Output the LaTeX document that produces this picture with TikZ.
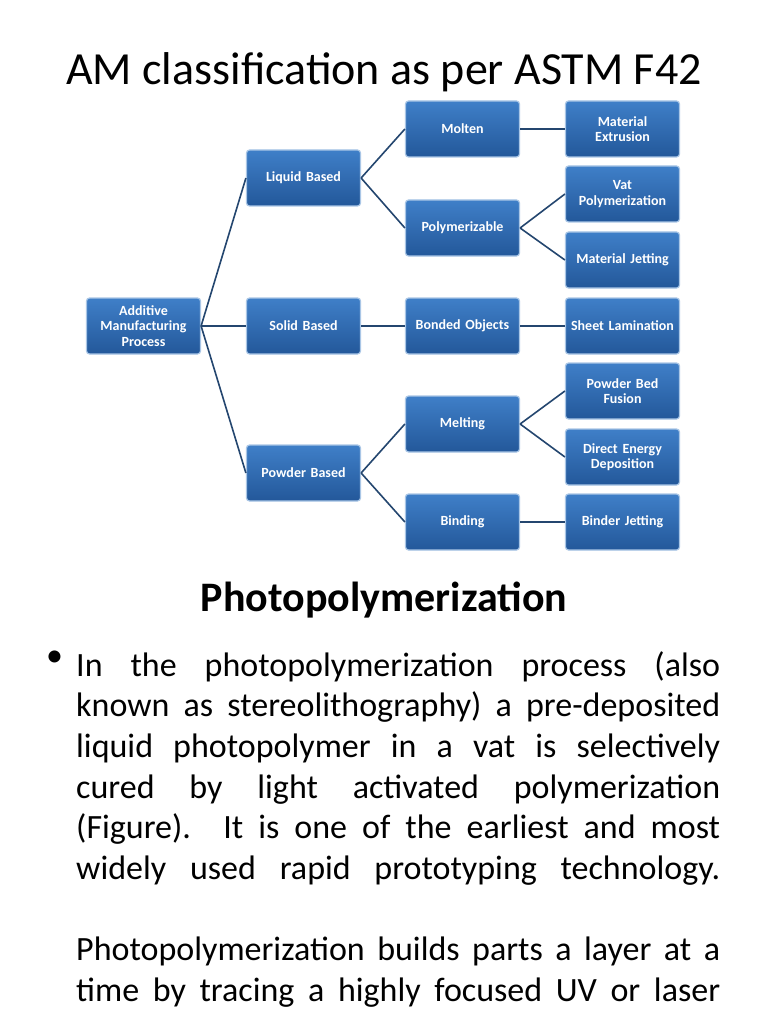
\documentclass[tikz,border=0pt]{standalone}
\usepackage{fontspec}
\setmainfont{Carlito}
\definecolor{bxtop}{HTML}{3F7FC8}
\definecolor{bxbot}{HTML}{23589A}
\definecolor{bxedge}{HTML}{A9C6E6}
\definecolor{lnc}{HTML}{24466F}
\tikzset{
 bx/.style={rectangle, rounded corners=3pt, minimum width=113pt, minimum height=56pt, inner sep=2pt,
   top color=bxtop, bottom color=bxbot, draw=bxedge, line width=1.2pt, text=white,
   font=\fontsize{14}{15.5}\selectfont\bfseries, align=center, text width=110pt},
 ln/.style={draw=lnc, line width=1.6pt}
}
\begin{document}
\begin{tikzpicture}[x=1pt,y=-1pt]
\useasboundingbox[fill=white] (0,0) rectangle (768,1024);
\node[font=\fontsize{46}{48}\selectfont] (title) at (384,72) {AM classification as per ASTM F42};
\node[bx] (am) at (143.5,326) {Additive\\Manufacturing\\Process};
\node[bx] (liq) at (303.5,178) {Liquid Based};
\node[bx] (sol) at (303.5,326) {Solid Based};
\node[bx] (pow) at (303.5,473) {Powder Based};
\node[bx] (mol) at (462.5,129) {Molten};
\node[bx] (pol) at (462.5,228) {Polymerizable};
\node[bx] (bon) at (462.5,326) {Bonded Objects};
\node[bx] (mel) at (462.5,424) {Melting};
\node[bx] (bin) at (462.5,522) {Binding};
\node[bx] (me) at (622.5,129) {Material\\Extrusion};
\node[bx] (vp) at (622.5,194) {Vat\\Polymerization};
\node[bx] (mj) at (622.5,260) {Material Jetting};
\node[bx] (sl) at (622.5,326) {Sheet Lamination};
\node[bx] (pbf) at (622.5,391) {Powder Bed\\Fusion};
\node[bx] (ded) at (622.5,457) {Direct Energy\\Deposition};
\node[bx] (bj) at (622.5,522) {Binder Jetting};
\foreach \a/\b in {am/liq,am/sol,am/pow,liq/mol,liq/pol,sol/bon,pow/mel,pow/bin,mol/me,pol/vp,pol/mj,bon/sl,mel/pbf,mel/ded,bin/bj}
  \draw[ln] (\a.east) -- (\b.west);
\node[font=\fontsize{42}{44}\selectfont\bfseries] (ph) at (384,600) {Photopolymerization};
\node[anchor=north west, inner sep=0pt, font=\fontsize{34}{40.7}\selectfont] (bul) at (46,651) {•};
\node[anchor=north west, inner sep=0pt, text width=644pt, align=justify,
  font=\fontsize{34}{40.7}\selectfont] (body) at (76,651) {\parfillskip=0pt
In the photopolymerization process (also\linebreak
known as stereolithography) a pre-deposited\linebreak
liquid photopolymer in a vat is selectively\linebreak
cured by light activated polymerization\linebreak
(Figure). It is one of the earliest and most\linebreak
widely used rapid prototyping technology.\par
\strut\par
Photopolymerization builds parts a layer at a\linebreak
time by tracing a highly focused UV or laser\par};
\end{tikzpicture}
\end{document}
